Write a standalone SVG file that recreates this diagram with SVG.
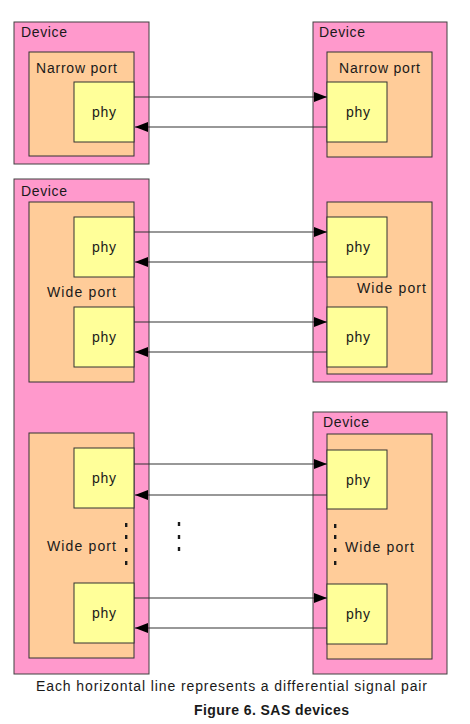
<svg xmlns="http://www.w3.org/2000/svg" width="470" height="724" viewBox="0 0 470 724">
<style>
.dev{fill:#FF99CC;stroke:#404040;stroke-width:1}
.port{fill:#FFCC99;stroke:#333333;stroke-width:1}
.phy{fill:#FFFF99;stroke:#333333;stroke-width:1}
.t{font-family:"Liberation Sans",Arial,sans-serif;font-size:14px;fill:#1a1a1a}
.p{font-family:"Liberation Sans",Arial,sans-serif;font-size:14px;fill:#1a1a1a}
.c{stroke:#333333;stroke-width:1.2;fill:none}
.dot{fill:#1a1a1a}
</style>
<defs>
<marker id="ah" viewBox="0 0 13 10" refX="13" refY="5" markerWidth="13" markerHeight="10" markerUnits="userSpaceOnUse" orient="auto">
<path d="M0,0 L13,5 L0,10 z" fill="#000"/>
</marker>
</defs>
<rect x="0" y="0" width="470" height="724" fill="#fff"/>

<g id="device1">
<rect class="dev" x="14" y="22" width="135" height="142"/>
<text class="t" x="21" y="37" textLength="46">Device</text>
<g id="narrow-port-left">
<rect class="port" x="29" y="52" width="105" height="104"/>
<text class="t" x="36" y="73" textLength="81">Narrow port</text>
<g id="phy-l1"><rect class="phy" x="74" y="82" width="60" height="60"/><text class="p" x="92" y="117" textLength="24">phy</text></g>
</g>
</g>

<g id="device-right-top">
<rect class="dev" x="313" y="22" width="134" height="360"/>
<text class="t" x="319" y="37" textLength="46">Device</text>
<g id="narrow-port-right">
<rect class="port" x="327" y="52" width="105" height="105"/>
<text class="t" x="339" y="73" textLength="81">Narrow port</text>
<g id="phy-r1"><rect class="phy" x="327" y="82" width="60" height="60"/><text class="p" x="346" y="117" textLength="24">phy</text></g>
</g>
<g id="wide-port-right-top">
<rect class="port" x="327" y="202" width="105" height="172"/>
<text class="t" x="357" y="293" textLength="69">Wide port</text>
<g id="phy-r2"><rect class="phy" x="327" y="217" width="60" height="60"/><text class="p" x="346" y="252" textLength="24">phy</text></g>
<g id="phy-r3"><rect class="phy" x="327" y="307" width="60" height="60"/><text class="p" x="346" y="342" textLength="24">phy</text></g>
</g>
</g>

<g id="device2">
<rect class="dev" x="14" y="179" width="135" height="495"/>
<text class="t" x="21" y="196" textLength="46">Device</text>
<g id="wide-port-left-1">
<rect class="port" x="29" y="202" width="105" height="180"/>
<text class="t" x="47" y="297" textLength="69">Wide port</text>
<g id="phy-l2"><rect class="phy" x="74" y="217" width="60" height="60"/><text class="p" x="92" y="252" textLength="24">phy</text></g>
<g id="phy-l3"><rect class="phy" x="74" y="307" width="60" height="60"/><text class="p" x="92" y="342" textLength="24">phy</text></g>
</g>
<g id="wide-port-left-2">
<rect class="port" x="29" y="433" width="105" height="225"/>
<text class="t" x="47" y="551" textLength="69">Wide port</text>
<g id="phy-l4"><rect class="phy" x="74" y="448" width="60" height="60"/><text class="p" x="92" y="483" textLength="24">phy</text></g>
<g id="phy-l5"><rect class="phy" x="74" y="583" width="60" height="60"/><text class="p" x="92" y="618" textLength="24">phy</text></g>
<rect class="dot" x="125" y="523" width="2.4" height="4"/>
<rect class="dot" x="125" y="535" width="2.4" height="4"/>
<rect class="dot" x="125" y="548" width="2.4" height="4"/>
<rect class="dot" x="125" y="561" width="2.4" height="4"/>
</g>
</g>

<g id="device3">
<rect class="dev" x="313" y="412" width="134" height="262"/>
<text class="t" x="323" y="427" textLength="46">Device</text>
<g id="wide-port-right-2">
<rect class="port" x="327" y="434" width="105" height="225"/>
<text class="t" x="345" y="552" textLength="69">Wide port</text>
<g id="phy-r4"><rect class="phy" x="327" y="450" width="60" height="59"/><text class="p" x="346" y="485" textLength="24">phy</text></g>
<g id="phy-r5"><rect class="phy" x="327" y="584" width="60" height="60"/><text class="p" x="346" y="619" textLength="24">phy</text></g>
<rect class="dot" x="334" y="524" width="2.4" height="4"/>
<rect class="dot" x="334" y="535" width="2.4" height="4"/>
<rect class="dot" x="334" y="548" width="2.4" height="4"/>
<rect class="dot" x="334" y="561" width="2.4" height="4"/>
</g>
</g>

<g id="connectors">
<line class="c" x1="134" y1="97" x2="327" y2="97" marker-end="url(#ah)"/>
<line class="c" x1="327" y1="127" x2="135" y2="127" marker-end="url(#ah)"/>
<line class="c" x1="134" y1="232" x2="327" y2="232" marker-end="url(#ah)"/>
<line class="c" x1="327" y1="262" x2="135" y2="262" marker-end="url(#ah)"/>
<line class="c" x1="134" y1="322" x2="327" y2="322" marker-end="url(#ah)"/>
<line class="c" x1="327" y1="352" x2="135" y2="352" marker-end="url(#ah)"/>
<line class="c" x1="134" y1="464" x2="327" y2="464" marker-end="url(#ah)"/>
<line class="c" x1="327" y1="495" x2="135" y2="495" marker-end="url(#ah)"/>
<line class="c" x1="134" y1="598" x2="327" y2="598" marker-end="url(#ah)"/>
<line class="c" x1="327" y1="628" x2="135" y2="628" marker-end="url(#ah)"/>
<rect class="dot" x="177.8" y="522" width="2.4" height="4"/>
<rect class="dot" x="177.8" y="535" width="2.4" height="4"/>
<rect class="dot" x="177.8" y="547" width="2.4" height="4"/>
</g>

<text class="t" x="36" y="691" style="font-size:14px" textLength="391">Each horizontal line represents a differential signal pair</text>
<text class="t" x="194" y="715" style="font-size:14px;font-weight:bold" textLength="155">Figure 6. SAS devices</text>
</svg>
